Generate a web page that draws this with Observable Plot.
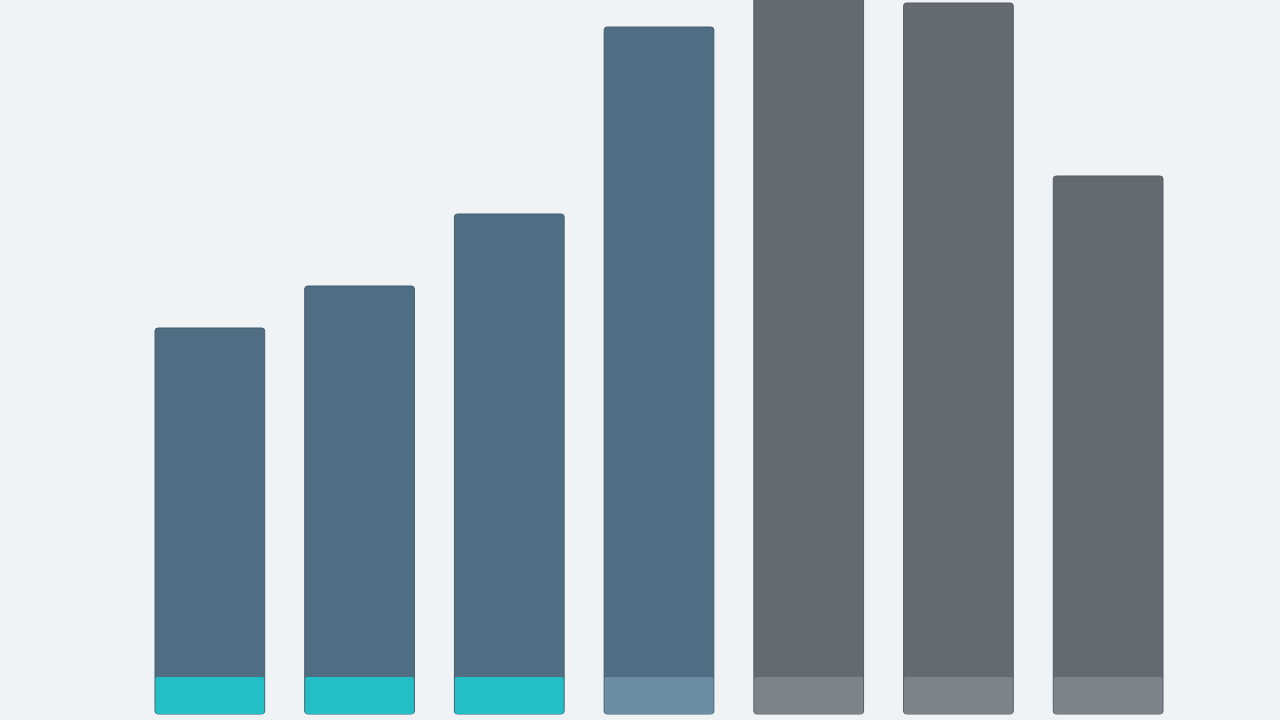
<!DOCTYPE html>
<html>
<head>
<meta charset="utf-8">
<script src="https://cdn.jsdelivr.net/npm/d3@7"></script>
<script src="https://cdn.jsdelivr.net/npm/@observablehq/plot@0.6"></script>
<style>
  html, body { margin: 0; padding: 0; background: #f0f3f5; overflow: hidden; }
  #chart svg { display: block; }
</style>
</head>
<body>
<div id="chart"></div>
<script>
const categories = ["1", "2", "3", "4", "5", "6", "7"];
const totals = [386, 428, 500, 687, 740, 711, 538];
const baseValues = [37, 37, 37, 37, 37, 37, 37];
const phases = ["current", "current", "current", "transition", "past", "past", "past"];

const rows = categories.map((c, i) => ({ cat: c, total: totals[i], base: baseValues[i], phase: phases[i] }));

const topColor = { current: "#4f6e83", transition: "#4f6e83", past: "#646a70" };
const topStroke = { current: "#455f71", transition: "#455f71", past: "#585d62" };
const baseColor = { current: "#22bfc6", transition: "#6b8ea4", past: "#7d8389" };

const chart = Plot.plot({
  width: 1280,
  height: 720,
  marginLeft: 135,
  marginRight: 97,
  marginTop: 0,
  marginBottom: 6,
  style: { background: "#f0f3f5" },
  x: { domain: categories, padding: 0, round: false, axis: null },
  y: { domain: [0, 714], axis: null },
  marks: [
    Plot.barY(rows, { x: "cat", y: "total", fill: d => topColor[d.phase], stroke: d => topStroke[d.phase], strokeWidth: 1, insetLeft: 20, insetRight: 20, rx: 3 }),
    Plot.barY(rows, { x: "cat", y: "base", fill: d => baseColor[d.phase], insetLeft: 20.5, insetRight: 20.5, rx: 2 })
  ]
});
document.getElementById("chart").appendChild(chart);
</script>
</body>
</html>
